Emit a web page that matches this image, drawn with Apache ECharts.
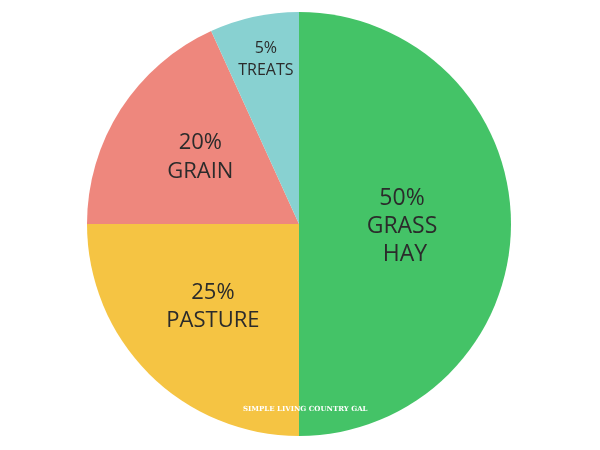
<!DOCTYPE html>
<html>
<head>
<meta charset="utf-8">
<script src="https://cdn.jsdelivr.net/npm/echarts@6/dist/echarts.min.js"></script>
<style>html,body{margin:0;padding:0;background:#fff}#c{width:600px;height:450px}</style>
</head>
<body>
<div id="c"></div>
<script>
const categories = ["GRASS\n HAY", "PASTURE", "GRAIN", "TREATS"];
const percentLabels = ["50%", "25%", "20%", "5%"];
const values = [50, 25, 18.2, 6.8];
const colors = ["#44c367", "#f5c443", "#ee877d", "#88d1d1"];
const labelOffsets = [[-6, 2], [-9, 6], [-7, -8], [-10, -58]];
const labelSizes = [23, 22, 22, 16];
const labelLineHeights = [28, 28, 29, 22];

const chart = echarts.init(document.getElementById('c'), null, {renderer: 'canvas'});
chart.setOption({
  animation: false,
  backgroundColor: '#ffffff',
  series: [{
    type: 'pie',
    center: [299, 224],
    radius: [0, 212],
    startAngle: 90,
    clockwise: true,
    avoidLabelOverlap: false,
    itemStyle: {borderWidth: 0},
    label: {
      show: true,
      position: 'inside',
      color: '#2b2b2b',
      fontFamily: 'Open Sans',
      formatter: p => percentLabels[p.dataIndex] + '\n' + categories[p.dataIndex]
    },
    labelLine: {show: false},
    emphasis: {disabled: true},
    data: categories.map((n, i) => ({
      name: n,
      value: values[i],
      itemStyle: {color: colors[i]},
      label: {offset: labelOffsets[i], fontSize: labelSizes[i], lineHeight: labelLineHeights[i]}
    }))
  }],
  graphic: [{
    type: 'text',
    left: 243,
    top: 406,
    z: 100,
    style: {
      text: 'SIMPLE LIVING COUNTRY GAL',
      fill: '#ffffff',
      fontSize: 7,
      fontWeight: 'bold',
      fontFamily: 'DejaVu Serif'
    }
  }]
});
</script>
</body>
</html>
